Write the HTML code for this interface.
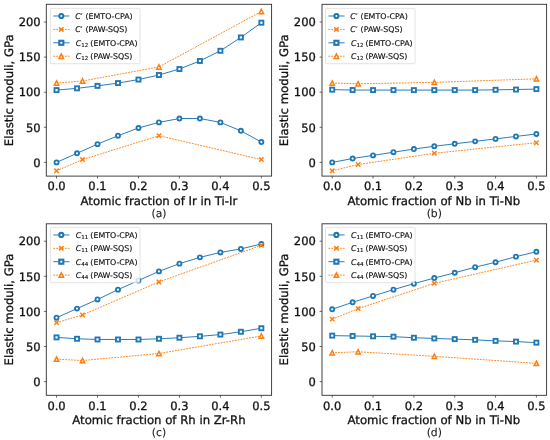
<!DOCTYPE html><html><head><meta charset="utf-8"><title>Elastic moduli</title><style>html,body{margin:0;padding:0;background:#fff}svg{display:block}</style></head><body><svg width="550" height="440" viewBox="0 0 550 440" font-family='"DejaVu Sans","Liberation Sans",sans-serif' text-rendering="geometricPrecision" stroke-linecap="butt">
<rect width="550" height="440" fill="#fff"/>
<path d="M56.54 162.4L77.02 153.27L97.5 144.15L117.99 135.72L138.47 128L158.95 122.39L179.43 118.53L199.91 118.53L220.4 122.39L240.88 130.81L261.36 142.04" fill="none" stroke="#1f77b4" stroke-width="0.95"/>
<circle cx="56.54" cy="162.4" r="2.03" fill="#fff" stroke="#1f77b4" stroke-width="1.85"/>
<circle cx="77.02" cy="153.27" r="2.03" fill="#fff" stroke="#1f77b4" stroke-width="1.85"/>
<circle cx="97.5" cy="144.15" r="2.03" fill="#fff" stroke="#1f77b4" stroke-width="1.85"/>
<circle cx="117.99" cy="135.72" r="2.03" fill="#fff" stroke="#1f77b4" stroke-width="1.85"/>
<circle cx="138.47" cy="128" r="2.03" fill="#fff" stroke="#1f77b4" stroke-width="1.85"/>
<circle cx="158.95" cy="122.39" r="2.03" fill="#fff" stroke="#1f77b4" stroke-width="1.85"/>
<circle cx="179.43" cy="118.53" r="2.03" fill="#fff" stroke="#1f77b4" stroke-width="1.85"/>
<circle cx="199.91" cy="118.53" r="2.03" fill="#fff" stroke="#1f77b4" stroke-width="1.85"/>
<circle cx="220.4" cy="122.39" r="2.03" fill="#fff" stroke="#1f77b4" stroke-width="1.85"/>
<circle cx="240.88" cy="130.81" r="2.03" fill="#fff" stroke="#1f77b4" stroke-width="1.85"/>
<circle cx="261.36" cy="142.04" r="2.03" fill="#fff" stroke="#1f77b4" stroke-width="1.85"/>
<path d="M56.54 170.82L82.55 159.59L158.95 135.72L261.36 159.59" fill="none" stroke="#ff7f0e" stroke-width="0.95" stroke-dasharray="1.8 1.1"/>
<path d="M54.34 168.62L58.74 173.02M54.34 173.02L58.74 168.62" fill="none" stroke="#ff7f0e" stroke-width="1.5"/>
<path d="M80.35 157.39L84.75 161.79M80.35 161.79L84.75 157.39" fill="none" stroke="#ff7f0e" stroke-width="1.5"/>
<path d="M156.75 133.52L161.15 137.92M156.75 137.92L161.15 133.52" fill="none" stroke="#ff7f0e" stroke-width="1.5"/>
<path d="M259.16 157.39L263.56 161.79M259.16 161.79L263.56 157.39" fill="none" stroke="#ff7f0e" stroke-width="1.5"/>
<path d="M56.54 90.09L77.02 88.34L97.5 85.88L117.99 83.07L138.47 79.56L158.95 75L179.43 69.03L199.91 60.96L220.4 50.78L240.88 37.44L261.36 22.7" fill="none" stroke="#1f77b4" stroke-width="0.95"/>
<rect x="54.51" y="88.06" width="4.06" height="4.06" fill="#fff" stroke="#1f77b4" stroke-width="1.85"/>
<rect x="74.99" y="86.31" width="4.06" height="4.06" fill="#fff" stroke="#1f77b4" stroke-width="1.85"/>
<rect x="95.47" y="83.85" width="4.06" height="4.06" fill="#fff" stroke="#1f77b4" stroke-width="1.85"/>
<rect x="115.96" y="81.04" width="4.06" height="4.06" fill="#fff" stroke="#1f77b4" stroke-width="1.85"/>
<rect x="136.44" y="77.53" width="4.06" height="4.06" fill="#fff" stroke="#1f77b4" stroke-width="1.85"/>
<rect x="156.92" y="72.97" width="4.06" height="4.06" fill="#fff" stroke="#1f77b4" stroke-width="1.85"/>
<rect x="177.4" y="67" width="4.06" height="4.06" fill="#fff" stroke="#1f77b4" stroke-width="1.85"/>
<rect x="197.88" y="58.93" width="4.06" height="4.06" fill="#fff" stroke="#1f77b4" stroke-width="1.85"/>
<rect x="218.37" y="48.75" width="4.06" height="4.06" fill="#fff" stroke="#1f77b4" stroke-width="1.85"/>
<rect x="238.85" y="35.41" width="4.06" height="4.06" fill="#fff" stroke="#1f77b4" stroke-width="1.85"/>
<rect x="259.33" y="20.67" width="4.06" height="4.06" fill="#fff" stroke="#1f77b4" stroke-width="1.85"/>
<path d="M56.54 83.07L82.55 80.97L158.95 66.93L261.36 11.47" fill="none" stroke="#ff7f0e" stroke-width="0.95" stroke-dasharray="1.8 1.1"/>
<path d="M56.54 80.87L58.74 85.27L54.34 85.27Z" fill="#fff" stroke="#ff7f0e" stroke-width="1.5" stroke-linejoin="miter" stroke-miterlimit="10"/>
<path d="M82.55 78.77L84.75 83.17L80.35 83.17Z" fill="#fff" stroke="#ff7f0e" stroke-width="1.5" stroke-linejoin="miter" stroke-miterlimit="10"/>
<path d="M158.95 64.73L161.15 69.13L156.75 69.13Z" fill="#fff" stroke="#ff7f0e" stroke-width="1.5" stroke-linejoin="miter" stroke-miterlimit="10"/>
<path d="M261.36 9.27L263.56 13.67L259.16 13.67Z" fill="#fff" stroke="#ff7f0e" stroke-width="1.5" stroke-linejoin="miter" stroke-miterlimit="10"/>
<rect x="46.3" y="4.3" width="225.3" height="171.8" fill="none" stroke="#2e2e2e" stroke-width="0.9"/>
<path d="M56.54 176.1v2.4" stroke="#2e2e2e" stroke-width="0.7"/>
<text x="56.54" y="190" font-size="11.5" text-anchor="middle" fill="#111" stroke="#111" stroke-width="0.3">0.0</text>
<path d="M97.5 176.1v2.4" stroke="#2e2e2e" stroke-width="0.7"/>
<text x="97.5" y="190" font-size="11.5" text-anchor="middle" fill="#111" stroke="#111" stroke-width="0.3">0.1</text>
<path d="M138.47 176.1v2.4" stroke="#2e2e2e" stroke-width="0.7"/>
<text x="138.47" y="190" font-size="11.5" text-anchor="middle" fill="#111" stroke="#111" stroke-width="0.3">0.2</text>
<path d="M179.43 176.1v2.4" stroke="#2e2e2e" stroke-width="0.7"/>
<text x="179.43" y="190" font-size="11.5" text-anchor="middle" fill="#111" stroke="#111" stroke-width="0.3">0.3</text>
<path d="M220.4 176.1v2.4" stroke="#2e2e2e" stroke-width="0.7"/>
<text x="220.4" y="190" font-size="11.5" text-anchor="middle" fill="#111" stroke="#111" stroke-width="0.3">0.4</text>
<path d="M261.36 176.1v2.4" stroke="#2e2e2e" stroke-width="0.7"/>
<text x="261.36" y="190" font-size="11.5" text-anchor="middle" fill="#111" stroke="#111" stroke-width="0.3">0.5</text>
<path d="M46.3 162.4h-2.4" stroke="#2e2e2e" stroke-width="0.7"/>
<text x="40.7" y="166.6" font-size="11.5" text-anchor="end" fill="#111" stroke="#111" stroke-width="0.3">0</text>
<path d="M46.3 127.3h-2.4" stroke="#2e2e2e" stroke-width="0.7"/>
<text x="40.7" y="131.5" font-size="11.5" text-anchor="end" fill="#111" stroke="#111" stroke-width="0.3">50</text>
<path d="M46.3 92.2h-2.4" stroke="#2e2e2e" stroke-width="0.7"/>
<text x="40.7" y="96.4" font-size="11.5" text-anchor="end" fill="#111" stroke="#111" stroke-width="0.3">100</text>
<path d="M46.3 57.1h-2.4" stroke="#2e2e2e" stroke-width="0.7"/>
<text x="40.7" y="61.3" font-size="11.5" text-anchor="end" fill="#111" stroke="#111" stroke-width="0.3">150</text>
<path d="M46.3 22h-2.4" stroke="#2e2e2e" stroke-width="0.7"/>
<text x="40.7" y="26.2" font-size="11.5" text-anchor="end" fill="#111" stroke="#111" stroke-width="0.3">200</text>
<text x="158.95" y="205.1" font-size="11.7" text-anchor="middle" fill="#111" stroke="#111" stroke-width="0.3">Atomic fraction of Ir in Ti-Ir</text>
<text x="158.95" y="216.9" font-size="10.8" text-anchor="middle" fill="#222" stroke="#222" stroke-width="0.1">(a)</text>
<text transform="translate(12.5 90.2) rotate(-90)" font-size="11.7" text-anchor="middle" fill="#111" stroke="#111" stroke-width="0.3">Elastic moduli, GPa</text>
<rect x="50.4" y="8.3" width="89.6" height="55.4" rx="1.6" fill="#fff" fill-opacity="0.8" stroke="#ccc" stroke-opacity="0.8" stroke-width="0.7"/>
<path d="M53.3 16H69.5" stroke="#1f77b4" stroke-width="1.7" stroke-opacity="0.55"/>
<circle cx="61.3" cy="16" r="2.03" fill="#fff" stroke="#1f77b4" stroke-width="2.1"/>
<text x="75.2" y="18.9" font-size="7.9" fill="#111" stroke="#111" stroke-width="0.15"><tspan font-style="italic">C</tspan><tspan font-size="7.4" dx="0.1" dy="0">′</tspan><tspan dx="0.45" dy="0"> (EMTO-CPA)</tspan></text>
<path d="M53.3 29.4H69.5" stroke="#ff7f0e" stroke-width="0.95" stroke-dasharray="1.8 1.1"/>
<path d="M59.1 27.2L63.5 31.6M59.1 31.6L63.5 27.2" fill="none" stroke="#ff7f0e" stroke-width="1.5"/>
<text x="75.2" y="32.3" font-size="7.9" fill="#111" stroke="#111" stroke-width="0.15"><tspan font-style="italic">C</tspan><tspan font-size="7.4" dx="0.1" dy="0">′</tspan><tspan dx="0.45" dy="0"> (PAW-SQS)</tspan></text>
<path d="M53.3 42.8H69.5" stroke="#1f77b4" stroke-width="0.95"/>
<rect x="59.27" y="40.77" width="4.06" height="4.06" fill="#fff" stroke="#1f77b4" stroke-width="2.1"/>
<text x="75.8" y="45.7" font-size="7.9" fill="#111" stroke="#111" stroke-width="0.15"><tspan font-style="italic">C</tspan><tspan font-size="5.5" dy="1.2">12</tspan><tspan dy="-1.2" dx="-0.5"> (EMTO-CPA)</tspan></text>
<path d="M53.3 56.2H69.5" stroke="#ff7f0e" stroke-width="0.95" stroke-dasharray="1.8 1.1"/>
<path d="M61.3 54L63.5 58.4L59.1 58.4Z" fill="#fff" stroke="#ff7f0e" stroke-width="1.5" stroke-linejoin="miter" stroke-miterlimit="10"/>
<text x="75.8" y="59.1" font-size="7.9" fill="#111" stroke="#111" stroke-width="0.15"><tspan font-style="italic">C</tspan><tspan font-size="5.5" dy="1.2">12</tspan><tspan dy="-1.2" dx="-0.5"> (PAW-SQS)</tspan></text>
<path d="M332.21 162.4L352.63 158.54L373.05 155.38L393.46 152.22L413.88 149.06L434.3 146.25L454.72 143.8L475.14 141.34L495.55 138.88L515.97 136.43L536.39 133.97" fill="none" stroke="#1f77b4" stroke-width="0.95"/>
<circle cx="332.21" cy="162.4" r="2.03" fill="#fff" stroke="#1f77b4" stroke-width="1.85"/>
<circle cx="352.63" cy="158.54" r="2.03" fill="#fff" stroke="#1f77b4" stroke-width="1.85"/>
<circle cx="373.05" cy="155.38" r="2.03" fill="#fff" stroke="#1f77b4" stroke-width="1.85"/>
<circle cx="393.46" cy="152.22" r="2.03" fill="#fff" stroke="#1f77b4" stroke-width="1.85"/>
<circle cx="413.88" cy="149.06" r="2.03" fill="#fff" stroke="#1f77b4" stroke-width="1.85"/>
<circle cx="434.3" cy="146.25" r="2.03" fill="#fff" stroke="#1f77b4" stroke-width="1.85"/>
<circle cx="454.72" cy="143.8" r="2.03" fill="#fff" stroke="#1f77b4" stroke-width="1.85"/>
<circle cx="475.14" cy="141.34" r="2.03" fill="#fff" stroke="#1f77b4" stroke-width="1.85"/>
<circle cx="495.55" cy="138.88" r="2.03" fill="#fff" stroke="#1f77b4" stroke-width="1.85"/>
<circle cx="515.97" cy="136.43" r="2.03" fill="#fff" stroke="#1f77b4" stroke-width="1.85"/>
<circle cx="536.39" cy="133.97" r="2.03" fill="#fff" stroke="#1f77b4" stroke-width="1.85"/>
<path d="M332.21 170.82L358.14 164.51L434.3 153.27L536.39 142.74" fill="none" stroke="#ff7f0e" stroke-width="0.95" stroke-dasharray="1.8 1.1"/>
<path d="M330.01 168.62L334.41 173.02M330.01 173.02L334.41 168.62" fill="none" stroke="#ff7f0e" stroke-width="1.5"/>
<path d="M355.94 162.31L360.34 166.71M355.94 166.71L360.34 162.31" fill="none" stroke="#ff7f0e" stroke-width="1.5"/>
<path d="M432.1 151.07L436.5 155.47M432.1 155.47L436.5 151.07" fill="none" stroke="#ff7f0e" stroke-width="1.5"/>
<path d="M534.19 140.54L538.59 144.94M534.19 144.94L538.59 140.54" fill="none" stroke="#ff7f0e" stroke-width="1.5"/>
<path d="M332.21 89.67L352.63 90.02L373.05 90.09L393.46 90.09L413.88 90.09L434.3 90.09L454.72 90.09L475.14 90.09L495.55 89.81L515.97 89.53L536.39 89.11" fill="none" stroke="#1f77b4" stroke-width="0.95"/>
<rect x="330.18" y="87.64" width="4.06" height="4.06" fill="#fff" stroke="#1f77b4" stroke-width="1.85"/>
<rect x="350.6" y="87.99" width="4.06" height="4.06" fill="#fff" stroke="#1f77b4" stroke-width="1.85"/>
<rect x="371.02" y="88.06" width="4.06" height="4.06" fill="#fff" stroke="#1f77b4" stroke-width="1.85"/>
<rect x="391.43" y="88.06" width="4.06" height="4.06" fill="#fff" stroke="#1f77b4" stroke-width="1.85"/>
<rect x="411.85" y="88.06" width="4.06" height="4.06" fill="#fff" stroke="#1f77b4" stroke-width="1.85"/>
<rect x="432.27" y="88.06" width="4.06" height="4.06" fill="#fff" stroke="#1f77b4" stroke-width="1.85"/>
<rect x="452.69" y="88.06" width="4.06" height="4.06" fill="#fff" stroke="#1f77b4" stroke-width="1.85"/>
<rect x="473.11" y="88.06" width="4.06" height="4.06" fill="#fff" stroke="#1f77b4" stroke-width="1.85"/>
<rect x="493.52" y="87.78" width="4.06" height="4.06" fill="#fff" stroke="#1f77b4" stroke-width="1.85"/>
<rect x="513.94" y="87.5" width="4.06" height="4.06" fill="#fff" stroke="#1f77b4" stroke-width="1.85"/>
<rect x="534.36" y="87.08" width="4.06" height="4.06" fill="#fff" stroke="#1f77b4" stroke-width="1.85"/>
<path d="M332.21 83.07L358.14 83.78L434.3 82.37L536.39 78.86" fill="none" stroke="#ff7f0e" stroke-width="0.95" stroke-dasharray="1.8 1.1"/>
<path d="M332.21 80.87L334.41 85.27L330.01 85.27Z" fill="#fff" stroke="#ff7f0e" stroke-width="1.5" stroke-linejoin="miter" stroke-miterlimit="10"/>
<path d="M358.14 81.58L360.34 85.98L355.94 85.98Z" fill="#fff" stroke="#ff7f0e" stroke-width="1.5" stroke-linejoin="miter" stroke-miterlimit="10"/>
<path d="M434.3 80.17L436.5 84.57L432.1 84.57Z" fill="#fff" stroke="#ff7f0e" stroke-width="1.5" stroke-linejoin="miter" stroke-miterlimit="10"/>
<path d="M536.39 76.66L538.59 81.06L534.19 81.06Z" fill="#fff" stroke="#ff7f0e" stroke-width="1.5" stroke-linejoin="miter" stroke-miterlimit="10"/>
<rect x="322" y="4.3" width="224.6" height="171.8" fill="none" stroke="#2e2e2e" stroke-width="0.9"/>
<path d="M332.21 176.1v2.4" stroke="#2e2e2e" stroke-width="0.7"/>
<text x="332.21" y="190" font-size="11.5" text-anchor="middle" fill="#111" stroke="#111" stroke-width="0.3">0.0</text>
<path d="M373.05 176.1v2.4" stroke="#2e2e2e" stroke-width="0.7"/>
<text x="373.05" y="190" font-size="11.5" text-anchor="middle" fill="#111" stroke="#111" stroke-width="0.3">0.1</text>
<path d="M413.88 176.1v2.4" stroke="#2e2e2e" stroke-width="0.7"/>
<text x="413.88" y="190" font-size="11.5" text-anchor="middle" fill="#111" stroke="#111" stroke-width="0.3">0.2</text>
<path d="M454.72 176.1v2.4" stroke="#2e2e2e" stroke-width="0.7"/>
<text x="454.72" y="190" font-size="11.5" text-anchor="middle" fill="#111" stroke="#111" stroke-width="0.3">0.3</text>
<path d="M495.55 176.1v2.4" stroke="#2e2e2e" stroke-width="0.7"/>
<text x="495.55" y="190" font-size="11.5" text-anchor="middle" fill="#111" stroke="#111" stroke-width="0.3">0.4</text>
<path d="M536.39 176.1v2.4" stroke="#2e2e2e" stroke-width="0.7"/>
<text x="536.39" y="190" font-size="11.5" text-anchor="middle" fill="#111" stroke="#111" stroke-width="0.3">0.5</text>
<path d="M322 162.4h-2.4" stroke="#2e2e2e" stroke-width="0.7"/>
<text x="315.8" y="166.6" font-size="11.5" text-anchor="end" fill="#111" stroke="#111" stroke-width="0.3">0</text>
<path d="M322 127.3h-2.4" stroke="#2e2e2e" stroke-width="0.7"/>
<text x="315.8" y="131.5" font-size="11.5" text-anchor="end" fill="#111" stroke="#111" stroke-width="0.3">50</text>
<path d="M322 92.2h-2.4" stroke="#2e2e2e" stroke-width="0.7"/>
<text x="315.8" y="96.4" font-size="11.5" text-anchor="end" fill="#111" stroke="#111" stroke-width="0.3">100</text>
<path d="M322 57.1h-2.4" stroke="#2e2e2e" stroke-width="0.7"/>
<text x="315.8" y="61.3" font-size="11.5" text-anchor="end" fill="#111" stroke="#111" stroke-width="0.3">150</text>
<path d="M322 22h-2.4" stroke="#2e2e2e" stroke-width="0.7"/>
<text x="315.8" y="26.2" font-size="11.5" text-anchor="end" fill="#111" stroke="#111" stroke-width="0.3">200</text>
<text x="433.82" y="205.1" font-size="11.7" text-anchor="middle" fill="#111" stroke="#111" stroke-width="0.3">Atomic fraction of Nb in Ti-Nb</text>
<text x="434.3" y="216.9" font-size="10.8" text-anchor="middle" fill="#222" stroke="#222" stroke-width="0.1">(b)</text>
<text transform="translate(287.6 90.2) rotate(-90)" font-size="11.7" text-anchor="middle" fill="#111" stroke="#111" stroke-width="0.3">Elastic moduli, GPa</text>
<rect x="325.5" y="8.3" width="89.6" height="55.4" rx="1.6" fill="#fff" fill-opacity="0.8" stroke="#ccc" stroke-opacity="0.8" stroke-width="0.7"/>
<path d="M328.4 16H344.6" stroke="#1f77b4" stroke-width="1.7" stroke-opacity="0.55"/>
<circle cx="336.4" cy="16" r="2.03" fill="#fff" stroke="#1f77b4" stroke-width="2.1"/>
<text x="350.3" y="18.9" font-size="7.9" fill="#111" stroke="#111" stroke-width="0.15"><tspan font-style="italic">C</tspan><tspan font-size="7.4" dx="0.1" dy="0">′</tspan><tspan dx="0.45" dy="0"> (EMTO-CPA)</tspan></text>
<path d="M328.4 29.4H344.6" stroke="#ff7f0e" stroke-width="0.95" stroke-dasharray="1.8 1.1"/>
<path d="M334.2 27.2L338.6 31.6M334.2 31.6L338.6 27.2" fill="none" stroke="#ff7f0e" stroke-width="1.5"/>
<text x="350.3" y="32.3" font-size="7.9" fill="#111" stroke="#111" stroke-width="0.15"><tspan font-style="italic">C</tspan><tspan font-size="7.4" dx="0.1" dy="0">′</tspan><tspan dx="0.45" dy="0"> (PAW-SQS)</tspan></text>
<path d="M328.4 42.8H344.6" stroke="#1f77b4" stroke-width="0.95"/>
<rect x="334.37" y="40.77" width="4.06" height="4.06" fill="#fff" stroke="#1f77b4" stroke-width="2.1"/>
<text x="350.9" y="45.7" font-size="7.9" fill="#111" stroke="#111" stroke-width="0.15"><tspan font-style="italic">C</tspan><tspan font-size="5.5" dy="1.2">12</tspan><tspan dy="-1.2" dx="-0.5"> (EMTO-CPA)</tspan></text>
<path d="M328.4 56.2H344.6" stroke="#ff7f0e" stroke-width="0.95" stroke-dasharray="1.8 1.1"/>
<path d="M336.4 54L338.6 58.4L334.2 58.4Z" fill="#fff" stroke="#ff7f0e" stroke-width="1.5" stroke-linejoin="miter" stroke-miterlimit="10"/>
<text x="350.9" y="59.1" font-size="7.9" fill="#111" stroke="#111" stroke-width="0.15"><tspan font-style="italic">C</tspan><tspan font-size="5.5" dy="1.2">12</tspan><tspan dy="-1.2" dx="-0.5"> (PAW-SQS)</tspan></text>
<path d="M56.54 317.72L77.02 308.59L97.5 299.47L117.99 289.64L138.47 280.51L158.95 271.39L179.43 263.66L199.91 257.35L220.4 252.43L240.88 248.92L261.36 244.01" fill="none" stroke="#1f77b4" stroke-width="0.95"/>
<circle cx="56.54" cy="317.72" r="2.03" fill="#fff" stroke="#1f77b4" stroke-width="1.85"/>
<circle cx="77.02" cy="308.59" r="2.03" fill="#fff" stroke="#1f77b4" stroke-width="1.85"/>
<circle cx="97.5" cy="299.47" r="2.03" fill="#fff" stroke="#1f77b4" stroke-width="1.85"/>
<circle cx="117.99" cy="289.64" r="2.03" fill="#fff" stroke="#1f77b4" stroke-width="1.85"/>
<circle cx="138.47" cy="280.51" r="2.03" fill="#fff" stroke="#1f77b4" stroke-width="1.85"/>
<circle cx="158.95" cy="271.39" r="2.03" fill="#fff" stroke="#1f77b4" stroke-width="1.85"/>
<circle cx="179.43" cy="263.66" r="2.03" fill="#fff" stroke="#1f77b4" stroke-width="1.85"/>
<circle cx="199.91" cy="257.35" r="2.03" fill="#fff" stroke="#1f77b4" stroke-width="1.85"/>
<circle cx="220.4" cy="252.43" r="2.03" fill="#fff" stroke="#1f77b4" stroke-width="1.85"/>
<circle cx="240.88" cy="248.92" r="2.03" fill="#fff" stroke="#1f77b4" stroke-width="1.85"/>
<circle cx="261.36" cy="244.01" r="2.03" fill="#fff" stroke="#1f77b4" stroke-width="1.85"/>
<path d="M56.54 322.63L82.55 314.91L158.95 281.92L261.36 245.27" fill="none" stroke="#ff7f0e" stroke-width="0.95" stroke-dasharray="1.8 1.1"/>
<path d="M54.34 320.43L58.74 324.83M54.34 324.83L58.74 320.43" fill="none" stroke="#ff7f0e" stroke-width="1.5"/>
<path d="M80.35 312.71L84.75 317.11M80.35 317.11L84.75 312.71" fill="none" stroke="#ff7f0e" stroke-width="1.5"/>
<path d="M156.75 279.72L161.15 284.12M156.75 284.12L161.15 279.72" fill="none" stroke="#ff7f0e" stroke-width="1.5"/>
<path d="M259.16 243.07L263.56 247.47M259.16 247.47L263.56 243.07" fill="none" stroke="#ff7f0e" stroke-width="1.5"/>
<path d="M56.54 337.37L77.02 338.78L97.5 339.48L117.99 339.48L138.47 339.48L158.95 338.78L179.43 337.73L199.91 336.32L220.4 334.57L240.88 331.76L261.36 328.25" fill="none" stroke="#1f77b4" stroke-width="0.95"/>
<rect x="54.51" y="335.34" width="4.06" height="4.06" fill="#fff" stroke="#1f77b4" stroke-width="1.85"/>
<rect x="74.99" y="336.75" width="4.06" height="4.06" fill="#fff" stroke="#1f77b4" stroke-width="1.85"/>
<rect x="95.47" y="337.45" width="4.06" height="4.06" fill="#fff" stroke="#1f77b4" stroke-width="1.85"/>
<rect x="115.96" y="337.45" width="4.06" height="4.06" fill="#fff" stroke="#1f77b4" stroke-width="1.85"/>
<rect x="136.44" y="337.45" width="4.06" height="4.06" fill="#fff" stroke="#1f77b4" stroke-width="1.85"/>
<rect x="156.92" y="336.75" width="4.06" height="4.06" fill="#fff" stroke="#1f77b4" stroke-width="1.85"/>
<rect x="177.4" y="335.7" width="4.06" height="4.06" fill="#fff" stroke="#1f77b4" stroke-width="1.85"/>
<rect x="197.88" y="334.29" width="4.06" height="4.06" fill="#fff" stroke="#1f77b4" stroke-width="1.85"/>
<rect x="218.37" y="332.54" width="4.06" height="4.06" fill="#fff" stroke="#1f77b4" stroke-width="1.85"/>
<rect x="238.85" y="329.73" width="4.06" height="4.06" fill="#fff" stroke="#1f77b4" stroke-width="1.85"/>
<rect x="259.33" y="326.22" width="4.06" height="4.06" fill="#fff" stroke="#1f77b4" stroke-width="1.85"/>
<path d="M56.54 359.14L82.55 360.54L158.95 353.52L261.36 335.97" fill="none" stroke="#ff7f0e" stroke-width="0.95" stroke-dasharray="1.8 1.1"/>
<path d="M56.54 356.94L58.74 361.34L54.34 361.34Z" fill="#fff" stroke="#ff7f0e" stroke-width="1.5" stroke-linejoin="miter" stroke-miterlimit="10"/>
<path d="M82.55 358.34L84.75 362.74L80.35 362.74Z" fill="#fff" stroke="#ff7f0e" stroke-width="1.5" stroke-linejoin="miter" stroke-miterlimit="10"/>
<path d="M158.95 351.32L161.15 355.72L156.75 355.72Z" fill="#fff" stroke="#ff7f0e" stroke-width="1.5" stroke-linejoin="miter" stroke-miterlimit="10"/>
<path d="M261.36 333.77L263.56 338.17L259.16 338.17Z" fill="#fff" stroke="#ff7f0e" stroke-width="1.5" stroke-linejoin="miter" stroke-miterlimit="10"/>
<rect x="46.3" y="223.8" width="225.3" height="171.5" fill="none" stroke="#2e2e2e" stroke-width="0.9"/>
<path d="M56.54 395.3v2.4" stroke="#2e2e2e" stroke-width="0.7"/>
<text x="56.54" y="410" font-size="11.5" text-anchor="middle" fill="#111" stroke="#111" stroke-width="0.3">0.0</text>
<path d="M97.5 395.3v2.4" stroke="#2e2e2e" stroke-width="0.7"/>
<text x="97.5" y="410" font-size="11.5" text-anchor="middle" fill="#111" stroke="#111" stroke-width="0.3">0.1</text>
<path d="M138.47 395.3v2.4" stroke="#2e2e2e" stroke-width="0.7"/>
<text x="138.47" y="410" font-size="11.5" text-anchor="middle" fill="#111" stroke="#111" stroke-width="0.3">0.2</text>
<path d="M179.43 395.3v2.4" stroke="#2e2e2e" stroke-width="0.7"/>
<text x="179.43" y="410" font-size="11.5" text-anchor="middle" fill="#111" stroke="#111" stroke-width="0.3">0.3</text>
<path d="M220.4 395.3v2.4" stroke="#2e2e2e" stroke-width="0.7"/>
<text x="220.4" y="410" font-size="11.5" text-anchor="middle" fill="#111" stroke="#111" stroke-width="0.3">0.4</text>
<path d="M261.36 395.3v2.4" stroke="#2e2e2e" stroke-width="0.7"/>
<text x="261.36" y="410" font-size="11.5" text-anchor="middle" fill="#111" stroke="#111" stroke-width="0.3">0.5</text>
<path d="M46.3 381.6h-2.4" stroke="#2e2e2e" stroke-width="0.7"/>
<text x="40.7" y="385.8" font-size="11.5" text-anchor="end" fill="#111" stroke="#111" stroke-width="0.3">0</text>
<path d="M46.3 346.5h-2.4" stroke="#2e2e2e" stroke-width="0.7"/>
<text x="40.7" y="350.7" font-size="11.5" text-anchor="end" fill="#111" stroke="#111" stroke-width="0.3">50</text>
<path d="M46.3 311.4h-2.4" stroke="#2e2e2e" stroke-width="0.7"/>
<text x="40.7" y="315.6" font-size="11.5" text-anchor="end" fill="#111" stroke="#111" stroke-width="0.3">100</text>
<path d="M46.3 276.3h-2.4" stroke="#2e2e2e" stroke-width="0.7"/>
<text x="40.7" y="280.5" font-size="11.5" text-anchor="end" fill="#111" stroke="#111" stroke-width="0.3">150</text>
<path d="M46.3 241.2h-2.4" stroke="#2e2e2e" stroke-width="0.7"/>
<text x="40.7" y="245.4" font-size="11.5" text-anchor="end" fill="#111" stroke="#111" stroke-width="0.3">200</text>
<text x="158.95" y="424.3" font-size="11.7" text-anchor="middle" fill="#111" stroke="#111" stroke-width="0.3">Atomic fraction of Rh in Zr-Rh</text>
<text x="158.95" y="436.1" font-size="10.8" text-anchor="middle" fill="#222" stroke="#222" stroke-width="0.1">(c)</text>
<text transform="translate(12.5 309.55) rotate(-90)" font-size="11.7" text-anchor="middle" fill="#111" stroke="#111" stroke-width="0.3">Elastic moduli, GPa</text>
<rect x="50.4" y="227.3" width="89.6" height="55.4" rx="1.6" fill="#fff" fill-opacity="0.8" stroke="#ccc" stroke-opacity="0.8" stroke-width="0.7"/>
<path d="M53.3 234.9H69.5" stroke="#1f77b4" stroke-width="1.7" stroke-opacity="0.55"/>
<circle cx="61.3" cy="234.9" r="2.03" fill="#fff" stroke="#1f77b4" stroke-width="2.1"/>
<text x="75.8" y="237.8" font-size="7.9" fill="#111" stroke="#111" stroke-width="0.15"><tspan font-style="italic">C</tspan><tspan font-size="5.5" dy="1.2">11</tspan><tspan dy="-1.2" dx="-0.5"> (EMTO-CPA)</tspan></text>
<path d="M53.3 248.3H69.5" stroke="#ff7f0e" stroke-width="0.95" stroke-dasharray="1.8 1.1"/>
<path d="M59.1 246.1L63.5 250.5M59.1 250.5L63.5 246.1" fill="none" stroke="#ff7f0e" stroke-width="1.5"/>
<text x="75.8" y="251.2" font-size="7.9" fill="#111" stroke="#111" stroke-width="0.15"><tspan font-style="italic">C</tspan><tspan font-size="5.5" dy="1.2">11</tspan><tspan dy="-1.2" dx="-0.5"> (PAW-SQS)</tspan></text>
<path d="M53.3 261.7H69.5" stroke="#1f77b4" stroke-width="0.95"/>
<rect x="59.27" y="259.67" width="4.06" height="4.06" fill="#fff" stroke="#1f77b4" stroke-width="2.1"/>
<text x="75.8" y="264.6" font-size="7.9" fill="#111" stroke="#111" stroke-width="0.15"><tspan font-style="italic">C</tspan><tspan font-size="5.5" dy="1.2">44</tspan><tspan dy="-1.2" dx="-0.5"> (EMTO-CPA)</tspan></text>
<path d="M53.3 275.1H69.5" stroke="#ff7f0e" stroke-width="0.95" stroke-dasharray="1.8 1.1"/>
<path d="M61.3 272.9L63.5 277.3L59.1 277.3Z" fill="#fff" stroke="#ff7f0e" stroke-width="1.5" stroke-linejoin="miter" stroke-miterlimit="10"/>
<text x="75.8" y="278" font-size="7.9" fill="#111" stroke="#111" stroke-width="0.15"><tspan font-style="italic">C</tspan><tspan font-size="5.5" dy="1.2">44</tspan><tspan dy="-1.2" dx="-0.5"> (PAW-SQS)</tspan></text>
<path d="M332.21 309.29L352.63 302.27L373.05 295.96L393.46 289.64L413.88 283.67L434.3 278.06L454.72 272.79L475.14 267.17L495.55 262.26L515.97 256.64L536.39 251.73" fill="none" stroke="#1f77b4" stroke-width="0.95"/>
<circle cx="332.21" cy="309.29" r="2.03" fill="#fff" stroke="#1f77b4" stroke-width="1.85"/>
<circle cx="352.63" cy="302.27" r="2.03" fill="#fff" stroke="#1f77b4" stroke-width="1.85"/>
<circle cx="373.05" cy="295.96" r="2.03" fill="#fff" stroke="#1f77b4" stroke-width="1.85"/>
<circle cx="393.46" cy="289.64" r="2.03" fill="#fff" stroke="#1f77b4" stroke-width="1.85"/>
<circle cx="413.88" cy="283.67" r="2.03" fill="#fff" stroke="#1f77b4" stroke-width="1.85"/>
<circle cx="434.3" cy="278.06" r="2.03" fill="#fff" stroke="#1f77b4" stroke-width="1.85"/>
<circle cx="454.72" cy="272.79" r="2.03" fill="#fff" stroke="#1f77b4" stroke-width="1.85"/>
<circle cx="475.14" cy="267.17" r="2.03" fill="#fff" stroke="#1f77b4" stroke-width="1.85"/>
<circle cx="495.55" cy="262.26" r="2.03" fill="#fff" stroke="#1f77b4" stroke-width="1.85"/>
<circle cx="515.97" cy="256.64" r="2.03" fill="#fff" stroke="#1f77b4" stroke-width="1.85"/>
<circle cx="536.39" cy="251.73" r="2.03" fill="#fff" stroke="#1f77b4" stroke-width="1.85"/>
<path d="M332.21 319.12L358.14 308.59L434.3 283.32L536.39 260.15" fill="none" stroke="#ff7f0e" stroke-width="0.95" stroke-dasharray="1.8 1.1"/>
<path d="M330.01 316.92L334.41 321.32M330.01 321.32L334.41 316.92" fill="none" stroke="#ff7f0e" stroke-width="1.5"/>
<path d="M355.94 306.39L360.34 310.79M355.94 310.79L360.34 306.39" fill="none" stroke="#ff7f0e" stroke-width="1.5"/>
<path d="M432.1 281.12L436.5 285.52M432.1 285.52L436.5 281.12" fill="none" stroke="#ff7f0e" stroke-width="1.5"/>
<path d="M534.19 257.95L538.59 262.35M534.19 262.35L538.59 257.95" fill="none" stroke="#ff7f0e" stroke-width="1.5"/>
<path d="M332.21 335.62L352.63 335.97L373.05 336.32L393.46 336.67L413.88 337.73L434.3 338.43L454.72 339.13L475.14 339.83L495.55 340.88L515.97 341.59L536.39 342.64" fill="none" stroke="#1f77b4" stroke-width="0.95"/>
<rect x="330.18" y="333.59" width="4.06" height="4.06" fill="#fff" stroke="#1f77b4" stroke-width="1.85"/>
<rect x="350.6" y="333.94" width="4.06" height="4.06" fill="#fff" stroke="#1f77b4" stroke-width="1.85"/>
<rect x="371.02" y="334.29" width="4.06" height="4.06" fill="#fff" stroke="#1f77b4" stroke-width="1.85"/>
<rect x="391.43" y="334.64" width="4.06" height="4.06" fill="#fff" stroke="#1f77b4" stroke-width="1.85"/>
<rect x="411.85" y="335.7" width="4.06" height="4.06" fill="#fff" stroke="#1f77b4" stroke-width="1.85"/>
<rect x="432.27" y="336.4" width="4.06" height="4.06" fill="#fff" stroke="#1f77b4" stroke-width="1.85"/>
<rect x="452.69" y="337.1" width="4.06" height="4.06" fill="#fff" stroke="#1f77b4" stroke-width="1.85"/>
<rect x="473.11" y="337.8" width="4.06" height="4.06" fill="#fff" stroke="#1f77b4" stroke-width="1.85"/>
<rect x="493.52" y="338.85" width="4.06" height="4.06" fill="#fff" stroke="#1f77b4" stroke-width="1.85"/>
<rect x="513.94" y="339.56" width="4.06" height="4.06" fill="#fff" stroke="#1f77b4" stroke-width="1.85"/>
<rect x="534.36" y="340.61" width="4.06" height="4.06" fill="#fff" stroke="#1f77b4" stroke-width="1.85"/>
<path d="M332.21 352.82L358.14 351.77L434.3 356.33L536.39 363.35" fill="none" stroke="#ff7f0e" stroke-width="0.95" stroke-dasharray="1.8 1.1"/>
<path d="M332.21 350.62L334.41 355.02L330.01 355.02Z" fill="#fff" stroke="#ff7f0e" stroke-width="1.5" stroke-linejoin="miter" stroke-miterlimit="10"/>
<path d="M358.14 349.57L360.34 353.97L355.94 353.97Z" fill="#fff" stroke="#ff7f0e" stroke-width="1.5" stroke-linejoin="miter" stroke-miterlimit="10"/>
<path d="M434.3 354.13L436.5 358.53L432.1 358.53Z" fill="#fff" stroke="#ff7f0e" stroke-width="1.5" stroke-linejoin="miter" stroke-miterlimit="10"/>
<path d="M536.39 361.15L538.59 365.55L534.19 365.55Z" fill="#fff" stroke="#ff7f0e" stroke-width="1.5" stroke-linejoin="miter" stroke-miterlimit="10"/>
<rect x="322" y="223.8" width="224.6" height="171.5" fill="none" stroke="#2e2e2e" stroke-width="0.9"/>
<path d="M332.21 395.3v2.4" stroke="#2e2e2e" stroke-width="0.7"/>
<text x="332.21" y="410" font-size="11.5" text-anchor="middle" fill="#111" stroke="#111" stroke-width="0.3">0.0</text>
<path d="M373.05 395.3v2.4" stroke="#2e2e2e" stroke-width="0.7"/>
<text x="373.05" y="410" font-size="11.5" text-anchor="middle" fill="#111" stroke="#111" stroke-width="0.3">0.1</text>
<path d="M413.88 395.3v2.4" stroke="#2e2e2e" stroke-width="0.7"/>
<text x="413.88" y="410" font-size="11.5" text-anchor="middle" fill="#111" stroke="#111" stroke-width="0.3">0.2</text>
<path d="M454.72 395.3v2.4" stroke="#2e2e2e" stroke-width="0.7"/>
<text x="454.72" y="410" font-size="11.5" text-anchor="middle" fill="#111" stroke="#111" stroke-width="0.3">0.3</text>
<path d="M495.55 395.3v2.4" stroke="#2e2e2e" stroke-width="0.7"/>
<text x="495.55" y="410" font-size="11.5" text-anchor="middle" fill="#111" stroke="#111" stroke-width="0.3">0.4</text>
<path d="M536.39 395.3v2.4" stroke="#2e2e2e" stroke-width="0.7"/>
<text x="536.39" y="410" font-size="11.5" text-anchor="middle" fill="#111" stroke="#111" stroke-width="0.3">0.5</text>
<path d="M322 381.6h-2.4" stroke="#2e2e2e" stroke-width="0.7"/>
<text x="315.8" y="385.8" font-size="11.5" text-anchor="end" fill="#111" stroke="#111" stroke-width="0.3">0</text>
<path d="M322 346.5h-2.4" stroke="#2e2e2e" stroke-width="0.7"/>
<text x="315.8" y="350.7" font-size="11.5" text-anchor="end" fill="#111" stroke="#111" stroke-width="0.3">50</text>
<path d="M322 311.4h-2.4" stroke="#2e2e2e" stroke-width="0.7"/>
<text x="315.8" y="315.6" font-size="11.5" text-anchor="end" fill="#111" stroke="#111" stroke-width="0.3">100</text>
<path d="M322 276.3h-2.4" stroke="#2e2e2e" stroke-width="0.7"/>
<text x="315.8" y="280.5" font-size="11.5" text-anchor="end" fill="#111" stroke="#111" stroke-width="0.3">150</text>
<path d="M322 241.2h-2.4" stroke="#2e2e2e" stroke-width="0.7"/>
<text x="315.8" y="245.4" font-size="11.5" text-anchor="end" fill="#111" stroke="#111" stroke-width="0.3">200</text>
<text x="433.82" y="424.3" font-size="11.7" text-anchor="middle" fill="#111" stroke="#111" stroke-width="0.3">Atomic fraction of Nb in Ti-Nb</text>
<text x="434.3" y="436.1" font-size="10.8" text-anchor="middle" fill="#222" stroke="#222" stroke-width="0.1">(d)</text>
<text transform="translate(287.6 309.55) rotate(-90)" font-size="11.7" text-anchor="middle" fill="#111" stroke="#111" stroke-width="0.3">Elastic moduli, GPa</text>
<rect x="325.5" y="227.3" width="89.6" height="55.4" rx="1.6" fill="#fff" fill-opacity="0.8" stroke="#ccc" stroke-opacity="0.8" stroke-width="0.7"/>
<path d="M328.4 234.9H344.6" stroke="#1f77b4" stroke-width="1.7" stroke-opacity="0.55"/>
<circle cx="336.4" cy="234.9" r="2.03" fill="#fff" stroke="#1f77b4" stroke-width="2.1"/>
<text x="350.9" y="237.8" font-size="7.9" fill="#111" stroke="#111" stroke-width="0.15"><tspan font-style="italic">C</tspan><tspan font-size="5.5" dy="1.2">11</tspan><tspan dy="-1.2" dx="-0.5"> (EMTO-CPA)</tspan></text>
<path d="M328.4 248.3H344.6" stroke="#ff7f0e" stroke-width="0.95" stroke-dasharray="1.8 1.1"/>
<path d="M334.2 246.1L338.6 250.5M334.2 250.5L338.6 246.1" fill="none" stroke="#ff7f0e" stroke-width="1.5"/>
<text x="350.9" y="251.2" font-size="7.9" fill="#111" stroke="#111" stroke-width="0.15"><tspan font-style="italic">C</tspan><tspan font-size="5.5" dy="1.2">11</tspan><tspan dy="-1.2" dx="-0.5"> (PAW-SQS)</tspan></text>
<path d="M328.4 261.7H344.6" stroke="#1f77b4" stroke-width="0.95"/>
<rect x="334.37" y="259.67" width="4.06" height="4.06" fill="#fff" stroke="#1f77b4" stroke-width="2.1"/>
<text x="350.9" y="264.6" font-size="7.9" fill="#111" stroke="#111" stroke-width="0.15"><tspan font-style="italic">C</tspan><tspan font-size="5.5" dy="1.2">44</tspan><tspan dy="-1.2" dx="-0.5"> (EMTO-CPA)</tspan></text>
<path d="M328.4 275.1H344.6" stroke="#ff7f0e" stroke-width="0.95" stroke-dasharray="1.8 1.1"/>
<path d="M336.4 272.9L338.6 277.3L334.2 277.3Z" fill="#fff" stroke="#ff7f0e" stroke-width="1.5" stroke-linejoin="miter" stroke-miterlimit="10"/>
<text x="350.9" y="278" font-size="7.9" fill="#111" stroke="#111" stroke-width="0.15"><tspan font-style="italic">C</tspan><tspan font-size="5.5" dy="1.2">44</tspan><tspan dy="-1.2" dx="-0.5"> (PAW-SQS)</tspan></text>
</svg></body></html>
